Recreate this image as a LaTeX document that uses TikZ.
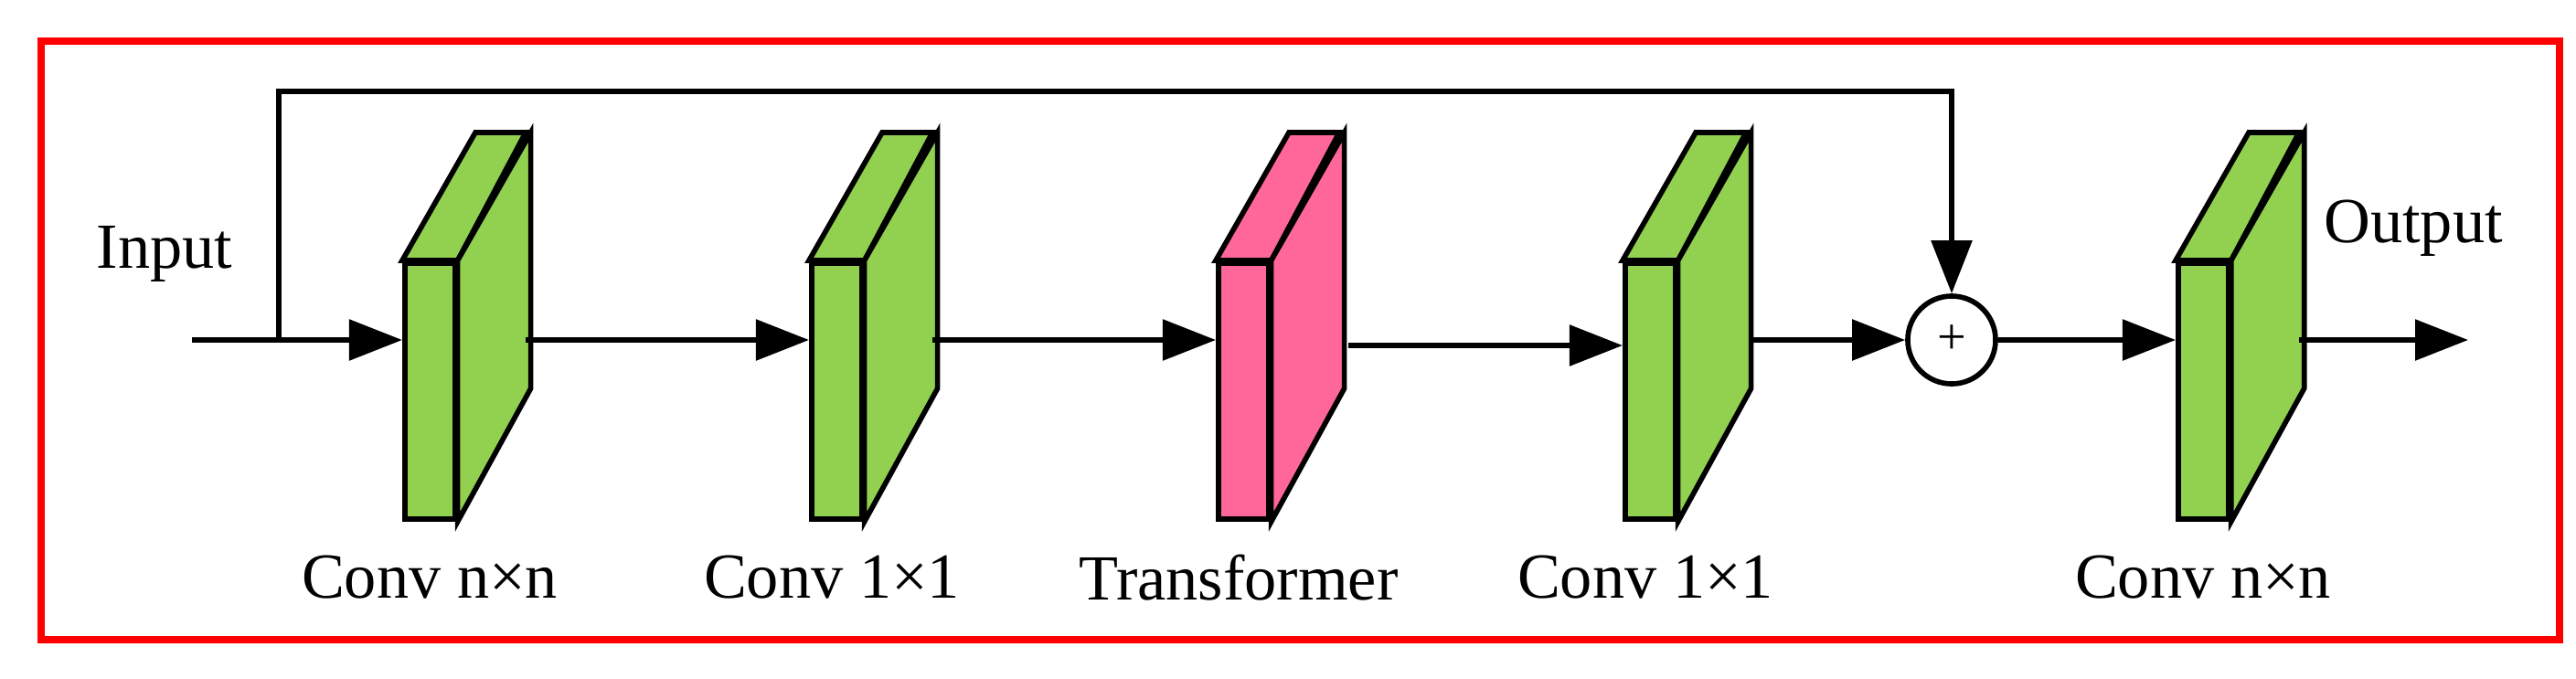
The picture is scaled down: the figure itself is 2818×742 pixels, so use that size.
\documentclass[tikz,border=0pt]{standalone}
\usepackage{fontspec}
\setmainfont{Liberation Serif}
\usetikzlibrary{arrows.meta}
\begin{document}
\begin{tikzpicture}[x=0.01cm,y=-0.01cm,
  lw/.style={line width=1.6pt},
  arr/.style={lw,-{Triangle[length=0.58cm,width=0.44cm]}},
  front/.style={draw,lw,minimum width=0.55cm,minimum height=2.8cm,inner sep=0pt,anchor=north west},
  lbl/.style={font=\fontsize{20}{23}\selectfont}]
\definecolor{gr}{RGB}{146,208,80}
\definecolor{pk}{RGB}{255,102,153}
\useasboundingbox (0,0) rectangle (2818,742);
\draw[red,line width=2.4pt] (45,45) rectangle (2800,700);
\newcommand\blk[3]{%
  \node[front,fill=#3] (#1) at (#2,285) {};
  \draw[lw,fill=#3] (#1.north west) -- ++(80,-140) -- ++(55,0) -- (#1.north east) -- cycle;
  \draw[lw,fill=#3] (#1.north east) -- ++(80,-140) -- ++(0,280) -- (#1.south east) -- cycle;
}
\blk{b1}{440}{gr}
\blk{b2}{885}{gr}
\blk{b3}{1330}{pk}
\blk{b4}{1775}{gr}
\blk{b6}{2380}{gr}
\node[draw,lw,circle,minimum size=0.96cm,inner sep=0pt,font=\fontsize{16}{18}\selectfont] (s) at (2135,372) {+};
\coordinate (in) at (210,372);
\coordinate (sk) at (305,372);
\coordinate (out) at (2700,372);
\draw[arr] (in) -- (b1.west |- in);
\draw[arr] (sk) -- (305,100) -| (s.north);
\draw[arr] (575,372) -- (b2.west |- in);
\draw[arr] (1020,372) -- (b3.west |- in);
\draw[arr] (1475,378) -- (1775,378);
\draw[arr] (1915,372) -- (s.west);
\draw[arr] (s.east) -- (b6.west |- in);
\draw[arr] (2515,372) -- (out);
\node[lbl] (t0) at (180,278) {Input};
\node[lbl] (t6) at (2640,250) {Output};
\node[lbl] (t1) at (470,632) {Conv n×n};
\node[lbl] (t2) at (910,632) {Conv 1×1};
\node[lbl] (t3) at (1355,632) {Transformer};
\node[lbl] (t4) at (1800,632) {Conv 1×1};
\node[lbl] (t5) at (2410,632) {Conv n×n};
\end{tikzpicture}
\end{document}
